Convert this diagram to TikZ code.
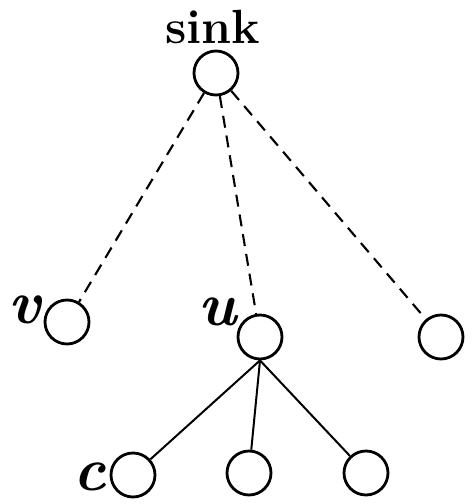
\documentclass[tikz,border=0pt]{standalone}
\usetikzlibrary{positioning}

\tikzset{every picture/.style={line width=0.75pt}}
\tikzset{
  vtx/.style={draw, circle, line width=2.1pt, inner sep=0pt, minimum size=33pt},
  tree edge/.style={line width=1.5pt},
  sink edge/.style={line width=1.6pt, dash pattern={on 9pt off 6pt}},
  lbl/.style={anchor=base, inner sep=0.75pt, font=\fontsize{46}{46}\selectfont\bfseries\itshape}
}

\begin{document}
\begin{tikzpicture}[x=0.75pt,y=0.75pt,yscale=-1,xscale=1]
%set diagram left start at 0, and has height of 504
\path[use as bounding box] (0,0) rectangle (472,504);

%Shape: Circle [sink]
\node [vtx] (sink) at (216,73) {};
%Shape: Circle [top row]
\node [vtx] (v) at (67,322) {};
\node [vtx] (u) at (260,337) {};
\node [vtx] (w) at (441,337) {};
%Shape: Circle [children of u]
\node [vtx] (c) at (133,475) {};
\node [vtx] (d) at (249,473) {};
\node [vtx] (e) at (366,473) {};

%Dashed Lines
\draw [sink edge] (sink) -- (v) ;
\draw [sink edge] (sink) -- (u) ;
\draw [sink edge] (sink) -- (w) ;
%Straight Lines
\draw [tree edge] (u.south) -- (c) ;
\draw [tree edge] (u.south) -- (d) ;
\draw [tree edge] (u.south) -- (e) ;

% Text Node
\node [anchor=base, inner sep=0.75pt, font=\fontsize{36}{36}\selectfont\bfseries] (sinktxt) at (213,43) {sink};
% Text Node
\node [lbl] (vtxt) at (25,323) {v};
% Text Node
\node [lbl] (utxt) at (218,325) {u};
% Text Node
\node [lbl] (ctxt) at (90,490) {c};

\end{tikzpicture}
\end{document}
